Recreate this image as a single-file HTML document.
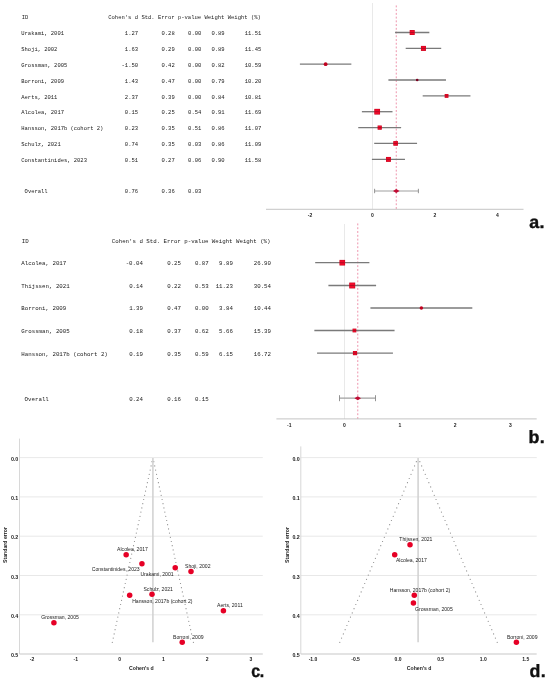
<!DOCTYPE html><html><head><meta charset="utf-8"><style>html,body{margin:0;padding:0;background:#fff;width:550px;height:681px;overflow:hidden}svg{display:block;filter:blur(0.3px)}</style></head><body>
<svg width="550" height="681" viewBox="0 0 550 681">
<rect width="550" height="681" fill="#fff"/>
<text x="21.80" y="19.26" font-size="5.47" font-family='"Liberation Mono", monospace' font-weight="normal" text-anchor="start" fill="#1a1a1a"  >ID</text>
<text x="108.20" y="19.29" font-size="5.547" font-family='"Liberation Mono", monospace' font-weight="normal" text-anchor="start" fill="#1a1a1a"  >Cohen's d Std. Error p-value Weight Weight (%)</text>
<text x="21.30" y="35.16" font-size="5.47" font-family='"Liberation Mono", monospace' font-weight="normal" text-anchor="start" fill="#1a1a1a"  >Urakami, 2001</text>
<text x="138.15" y="35.19" font-size="5.547" font-family='"Liberation Mono", monospace' font-weight="normal" text-anchor="end" fill="#1a1a1a"  >1.27</text>
<text x="174.77" y="35.19" font-size="5.547" font-family='"Liberation Mono", monospace' font-weight="normal" text-anchor="end" fill="#1a1a1a"  >0.28</text>
<text x="201.39" y="35.19" font-size="5.547" font-family='"Liberation Mono", monospace' font-weight="normal" text-anchor="end" fill="#1a1a1a"  >0.00</text>
<text x="224.69" y="35.19" font-size="5.547" font-family='"Liberation Mono", monospace' font-weight="normal" text-anchor="end" fill="#1a1a1a"  >0.89</text>
<text x="261.30" y="35.19" font-size="5.547" font-family='"Liberation Mono", monospace' font-weight="normal" text-anchor="end" fill="#1a1a1a"  >11.51</text>
<text x="21.30" y="51.06" font-size="5.47" font-family='"Liberation Mono", monospace' font-weight="normal" text-anchor="start" fill="#1a1a1a"  >Shoji, 2002</text>
<text x="138.15" y="51.09" font-size="5.547" font-family='"Liberation Mono", monospace' font-weight="normal" text-anchor="end" fill="#1a1a1a"  >1.63</text>
<text x="174.77" y="51.09" font-size="5.547" font-family='"Liberation Mono", monospace' font-weight="normal" text-anchor="end" fill="#1a1a1a"  >0.29</text>
<text x="201.39" y="51.09" font-size="5.547" font-family='"Liberation Mono", monospace' font-weight="normal" text-anchor="end" fill="#1a1a1a"  >0.00</text>
<text x="224.69" y="51.09" font-size="5.547" font-family='"Liberation Mono", monospace' font-weight="normal" text-anchor="end" fill="#1a1a1a"  >0.89</text>
<text x="261.30" y="51.09" font-size="5.547" font-family='"Liberation Mono", monospace' font-weight="normal" text-anchor="end" fill="#1a1a1a"  >11.45</text>
<text x="21.30" y="66.86" font-size="5.47" font-family='"Liberation Mono", monospace' font-weight="normal" text-anchor="start" fill="#1a1a1a"  >Grossman, 2005</text>
<text x="138.15" y="66.89" font-size="5.547" font-family='"Liberation Mono", monospace' font-weight="normal" text-anchor="end" fill="#1a1a1a"  >-1.50</text>
<text x="174.77" y="66.89" font-size="5.547" font-family='"Liberation Mono", monospace' font-weight="normal" text-anchor="end" fill="#1a1a1a"  >0.42</text>
<text x="201.39" y="66.89" font-size="5.547" font-family='"Liberation Mono", monospace' font-weight="normal" text-anchor="end" fill="#1a1a1a"  >0.00</text>
<text x="224.69" y="66.89" font-size="5.547" font-family='"Liberation Mono", monospace' font-weight="normal" text-anchor="end" fill="#1a1a1a"  >0.82</text>
<text x="261.30" y="66.89" font-size="5.547" font-family='"Liberation Mono", monospace' font-weight="normal" text-anchor="end" fill="#1a1a1a"  >10.59</text>
<text x="21.30" y="82.66" font-size="5.47" font-family='"Liberation Mono", monospace' font-weight="normal" text-anchor="start" fill="#1a1a1a"  >Borroni, 2009</text>
<text x="138.15" y="82.69" font-size="5.547" font-family='"Liberation Mono", monospace' font-weight="normal" text-anchor="end" fill="#1a1a1a"  >1.43</text>
<text x="174.77" y="82.69" font-size="5.547" font-family='"Liberation Mono", monospace' font-weight="normal" text-anchor="end" fill="#1a1a1a"  >0.47</text>
<text x="201.39" y="82.69" font-size="5.547" font-family='"Liberation Mono", monospace' font-weight="normal" text-anchor="end" fill="#1a1a1a"  >0.00</text>
<text x="224.69" y="82.69" font-size="5.547" font-family='"Liberation Mono", monospace' font-weight="normal" text-anchor="end" fill="#1a1a1a"  >0.79</text>
<text x="261.30" y="82.69" font-size="5.547" font-family='"Liberation Mono", monospace' font-weight="normal" text-anchor="end" fill="#1a1a1a"  >10.20</text>
<text x="21.30" y="98.56" font-size="5.47" font-family='"Liberation Mono", monospace' font-weight="normal" text-anchor="start" fill="#1a1a1a"  >Aerts, 2011</text>
<text x="138.15" y="98.59" font-size="5.547" font-family='"Liberation Mono", monospace' font-weight="normal" text-anchor="end" fill="#1a1a1a"  >2.37</text>
<text x="174.77" y="98.59" font-size="5.547" font-family='"Liberation Mono", monospace' font-weight="normal" text-anchor="end" fill="#1a1a1a"  >0.39</text>
<text x="201.39" y="98.59" font-size="5.547" font-family='"Liberation Mono", monospace' font-weight="normal" text-anchor="end" fill="#1a1a1a"  >0.00</text>
<text x="224.69" y="98.59" font-size="5.547" font-family='"Liberation Mono", monospace' font-weight="normal" text-anchor="end" fill="#1a1a1a"  >0.84</text>
<text x="261.30" y="98.59" font-size="5.547" font-family='"Liberation Mono", monospace' font-weight="normal" text-anchor="end" fill="#1a1a1a"  >10.81</text>
<text x="21.30" y="114.36" font-size="5.47" font-family='"Liberation Mono", monospace' font-weight="normal" text-anchor="start" fill="#1a1a1a"  >Alcolea, 2017</text>
<text x="138.15" y="114.39" font-size="5.547" font-family='"Liberation Mono", monospace' font-weight="normal" text-anchor="end" fill="#1a1a1a"  >0.15</text>
<text x="174.77" y="114.39" font-size="5.547" font-family='"Liberation Mono", monospace' font-weight="normal" text-anchor="end" fill="#1a1a1a"  >0.25</text>
<text x="201.39" y="114.39" font-size="5.547" font-family='"Liberation Mono", monospace' font-weight="normal" text-anchor="end" fill="#1a1a1a"  >0.54</text>
<text x="224.69" y="114.39" font-size="5.547" font-family='"Liberation Mono", monospace' font-weight="normal" text-anchor="end" fill="#1a1a1a"  >0.91</text>
<text x="261.30" y="114.39" font-size="5.547" font-family='"Liberation Mono", monospace' font-weight="normal" text-anchor="end" fill="#1a1a1a"  >11.69</text>
<text x="21.30" y="130.26" font-size="5.47" font-family='"Liberation Mono", monospace' font-weight="normal" text-anchor="start" fill="#1a1a1a"  >Hansson, 2017b (cohort 2)</text>
<text x="138.15" y="130.29" font-size="5.547" font-family='"Liberation Mono", monospace' font-weight="normal" text-anchor="end" fill="#1a1a1a"  >0.23</text>
<text x="174.77" y="130.29" font-size="5.547" font-family='"Liberation Mono", monospace' font-weight="normal" text-anchor="end" fill="#1a1a1a"  >0.35</text>
<text x="201.39" y="130.29" font-size="5.547" font-family='"Liberation Mono", monospace' font-weight="normal" text-anchor="end" fill="#1a1a1a"  >0.51</text>
<text x="224.69" y="130.29" font-size="5.547" font-family='"Liberation Mono", monospace' font-weight="normal" text-anchor="end" fill="#1a1a1a"  >0.86</text>
<text x="261.30" y="130.29" font-size="5.547" font-family='"Liberation Mono", monospace' font-weight="normal" text-anchor="end" fill="#1a1a1a"  >11.07</text>
<text x="21.30" y="146.06" font-size="5.47" font-family='"Liberation Mono", monospace' font-weight="normal" text-anchor="start" fill="#1a1a1a"  >Schulz, 2021</text>
<text x="138.15" y="146.09" font-size="5.547" font-family='"Liberation Mono", monospace' font-weight="normal" text-anchor="end" fill="#1a1a1a"  >0.74</text>
<text x="174.77" y="146.09" font-size="5.547" font-family='"Liberation Mono", monospace' font-weight="normal" text-anchor="end" fill="#1a1a1a"  >0.35</text>
<text x="201.39" y="146.09" font-size="5.547" font-family='"Liberation Mono", monospace' font-weight="normal" text-anchor="end" fill="#1a1a1a"  >0.03</text>
<text x="224.69" y="146.09" font-size="5.547" font-family='"Liberation Mono", monospace' font-weight="normal" text-anchor="end" fill="#1a1a1a"  >0.86</text>
<text x="261.30" y="146.09" font-size="5.547" font-family='"Liberation Mono", monospace' font-weight="normal" text-anchor="end" fill="#1a1a1a"  >11.09</text>
<text x="21.30" y="162.06" font-size="5.47" font-family='"Liberation Mono", monospace' font-weight="normal" text-anchor="start" fill="#1a1a1a"  >Constantinides, 2023</text>
<text x="138.15" y="162.09" font-size="5.547" font-family='"Liberation Mono", monospace' font-weight="normal" text-anchor="end" fill="#1a1a1a"  >0.51</text>
<text x="174.77" y="162.09" font-size="5.547" font-family='"Liberation Mono", monospace' font-weight="normal" text-anchor="end" fill="#1a1a1a"  >0.27</text>
<text x="201.39" y="162.09" font-size="5.547" font-family='"Liberation Mono", monospace' font-weight="normal" text-anchor="end" fill="#1a1a1a"  >0.06</text>
<text x="224.69" y="162.09" font-size="5.547" font-family='"Liberation Mono", monospace' font-weight="normal" text-anchor="end" fill="#1a1a1a"  >0.90</text>
<text x="261.30" y="162.09" font-size="5.547" font-family='"Liberation Mono", monospace' font-weight="normal" text-anchor="end" fill="#1a1a1a"  >11.58</text>
<text x="24.60" y="193.16" font-size="5.47" font-family='"Liberation Mono", monospace' font-weight="normal" text-anchor="start" fill="#1a1a1a"  >Overall</text>
<text x="138.15" y="193.19" font-size="5.547" font-family='"Liberation Mono", monospace' font-weight="normal" text-anchor="end" fill="#1a1a1a"  >0.76</text>
<text x="174.77" y="193.19" font-size="5.547" font-family='"Liberation Mono", monospace' font-weight="normal" text-anchor="end" fill="#1a1a1a"  >0.36</text>
<text x="201.39" y="193.19" font-size="5.547" font-family='"Liberation Mono", monospace' font-weight="normal" text-anchor="end" fill="#1a1a1a"  >0.03</text>
<line x1="372.50" y1="3.00" x2="372.50" y2="209.30" stroke="#e6e6e6" stroke-width="0.9" />
<line x1="396.25" y1="5.45" x2="396.25" y2="209.30" stroke="#ee94ac" stroke-width="1.0" stroke-dasharray="1.9 1.833"/>
<line x1="395.04" y1="32.50" x2="429.34" y2="32.50" stroke="#7a7a7a" stroke-width="1.3" />
<rect x="409.69" y="30.00" width="5.0" height="5.0" fill="#c4061e"/>
<rect x="410.14" y="30.45" width="4.10" height="4.10" fill="#f00a2a"/>
<line x1="410.19" y1="32.50" x2="414.19" y2="32.50" stroke="#9a0a20" stroke-width="0.7" />
<line x1="405.68" y1="48.40" x2="441.20" y2="48.40" stroke="#7a7a7a" stroke-width="1.3" />
<rect x="420.94" y="45.90" width="5.0" height="5.0" fill="#c4061e"/>
<rect x="421.39" y="46.35" width="4.10" height="4.10" fill="#f00a2a"/>
<line x1="421.44" y1="48.40" x2="425.44" y2="48.40" stroke="#9a0a20" stroke-width="0.7" />
<line x1="299.90" y1="64.20" x2="351.35" y2="64.20" stroke="#7a7a7a" stroke-width="1.3" />
<circle cx="325.62" cy="64.20" r="1.9" fill="#c0001e"/>
<line x1="388.40" y1="80.00" x2="445.98" y2="80.00" stroke="#7a7a7a" stroke-width="1.3" />
<circle cx="417.19" cy="80.00" r="1.3" fill="#7a0020"/>
<line x1="422.68" y1="95.90" x2="470.45" y2="95.90" stroke="#7a7a7a" stroke-width="1.3" />
<rect x="444.66" y="94.00" width="3.8" height="3.8" fill="#c4061e"/>
<rect x="445.11" y="94.45" width="2.90" height="2.90" fill="#f00a2a"/>
<line x1="445.16" y1="95.90" x2="447.96" y2="95.90" stroke="#9a0a20" stroke-width="0.7" />
<line x1="361.88" y1="111.70" x2="392.50" y2="111.70" stroke="#7a7a7a" stroke-width="1.3" />
<rect x="374.34" y="108.85" width="5.7" height="5.7" fill="#c4061e"/>
<rect x="374.79" y="109.30" width="4.80" height="4.80" fill="#f00a2a"/>
<line x1="374.84" y1="111.70" x2="379.54" y2="111.70" stroke="#9a0a20" stroke-width="0.7" />
<line x1="358.25" y1="127.60" x2="401.12" y2="127.60" stroke="#7a7a7a" stroke-width="1.3" />
<rect x="377.59" y="125.50" width="4.2" height="4.2" fill="#c4061e"/>
<rect x="378.04" y="125.95" width="3.30" height="3.30" fill="#f00a2a"/>
<line x1="378.09" y1="127.60" x2="381.29" y2="127.60" stroke="#9a0a20" stroke-width="0.7" />
<line x1="374.19" y1="143.40" x2="417.06" y2="143.40" stroke="#7a7a7a" stroke-width="1.3" />
<rect x="393.32" y="141.10" width="4.6" height="4.6" fill="#c4061e"/>
<rect x="393.77" y="141.55" width="3.70" height="3.70" fill="#f00a2a"/>
<line x1="393.82" y1="143.40" x2="397.43" y2="143.40" stroke="#9a0a20" stroke-width="0.7" />
<line x1="371.90" y1="159.40" x2="404.98" y2="159.40" stroke="#7a7a7a" stroke-width="1.3" />
<rect x="385.99" y="156.95" width="4.9" height="4.9" fill="#c4061e"/>
<rect x="386.44" y="157.40" width="4.00" height="4.00" fill="#f00a2a"/>
<line x1="386.49" y1="159.40" x2="390.39" y2="159.40" stroke="#9a0a20" stroke-width="0.7" />
<line x1="374.60" y1="191.00" x2="418.40" y2="191.00" stroke="#a0a0a0" stroke-width="1.2" />
<line x1="374.60" y1="188.80" x2="374.60" y2="193.20" stroke="#888" stroke-width="0.9" />
<line x1="418.40" y1="188.80" x2="418.40" y2="193.20" stroke="#888" stroke-width="0.9" />
<polygon points="392.95,191.00 396.25,189.00 399.55,191.00 396.25,193.00" fill="#c00c34"/>
<line x1="266.00" y1="209.30" x2="523.50" y2="209.30" stroke="#bdbdbd" stroke-width="0.9" />
<text x="310.00" y="216.80" font-size="5.0" font-family='"Liberation Sans", sans-serif' font-weight="bold" text-anchor="middle" fill="#222" >-2</text>
<text x="372.50" y="216.80" font-size="5.0" font-family='"Liberation Sans", sans-serif' font-weight="bold" text-anchor="middle" fill="#222" >0</text>
<text x="435.00" y="216.80" font-size="5.0" font-family='"Liberation Sans", sans-serif' font-weight="bold" text-anchor="middle" fill="#222" >2</text>
<text x="497.50" y="216.80" font-size="5.0" font-family='"Liberation Sans", sans-serif' font-weight="bold" text-anchor="middle" fill="#222" >4</text>
<text transform="translate(529.2,228.4) scale(0.25,0.25)" x="0" y="0" font-size="71.2" letter-spacing="1.2" font-family='"Liberation Sans", sans-serif' font-weight="bold" fill="#111" stroke="#111" stroke-width="1.6" text-rendering="geometricPrecision">a.</text>
<text x="21.80" y="242.77" font-size="5.78" font-family='"Liberation Mono", monospace' font-weight="normal" text-anchor="start" fill="#1a1a1a"  >ID</text>
<text x="111.80" y="242.76" font-size="5.768" font-family='"Liberation Mono", monospace' font-weight="normal" text-anchor="start" fill="#1a1a1a"  >Cohen's d Std. Error p-value Weight Weight (%)</text>
<text x="21.30" y="265.17" font-size="5.78" font-family='"Liberation Mono", monospace' font-weight="normal" text-anchor="start" fill="#1a1a1a"  >Alcolea, 2017</text>
<text x="142.95" y="265.16" font-size="5.768" font-family='"Liberation Mono", monospace' font-weight="normal" text-anchor="end" fill="#1a1a1a"  >-0.04</text>
<text x="181.02" y="265.16" font-size="5.768" font-family='"Liberation Mono", monospace' font-weight="normal" text-anchor="end" fill="#1a1a1a"  >0.25</text>
<text x="208.70" y="265.16" font-size="5.768" font-family='"Liberation Mono", monospace' font-weight="normal" text-anchor="end" fill="#1a1a1a"  >0.87</text>
<text x="232.93" y="265.16" font-size="5.768" font-family='"Liberation Mono", monospace' font-weight="normal" text-anchor="end" fill="#1a1a1a"  >9.89</text>
<text x="271.00" y="265.16" font-size="5.768" font-family='"Liberation Mono", monospace' font-weight="normal" text-anchor="end" fill="#1a1a1a"  >26.90</text>
<text x="21.30" y="287.97" font-size="5.78" font-family='"Liberation Mono", monospace' font-weight="normal" text-anchor="start" fill="#1a1a1a"  >Thijssen, 2021</text>
<text x="142.95" y="287.96" font-size="5.768" font-family='"Liberation Mono", monospace' font-weight="normal" text-anchor="end" fill="#1a1a1a"  >0.14</text>
<text x="181.02" y="287.96" font-size="5.768" font-family='"Liberation Mono", monospace' font-weight="normal" text-anchor="end" fill="#1a1a1a"  >0.22</text>
<text x="208.70" y="287.96" font-size="5.768" font-family='"Liberation Mono", monospace' font-weight="normal" text-anchor="end" fill="#1a1a1a"  >0.53</text>
<text x="232.93" y="287.96" font-size="5.768" font-family='"Liberation Mono", monospace' font-weight="normal" text-anchor="end" fill="#1a1a1a"  >11.23</text>
<text x="271.00" y="287.96" font-size="5.768" font-family='"Liberation Mono", monospace' font-weight="normal" text-anchor="end" fill="#1a1a1a"  >30.54</text>
<text x="21.30" y="310.47" font-size="5.78" font-family='"Liberation Mono", monospace' font-weight="normal" text-anchor="start" fill="#1a1a1a"  >Borroni, 2009</text>
<text x="142.95" y="310.46" font-size="5.768" font-family='"Liberation Mono", monospace' font-weight="normal" text-anchor="end" fill="#1a1a1a"  >1.39</text>
<text x="181.02" y="310.46" font-size="5.768" font-family='"Liberation Mono", monospace' font-weight="normal" text-anchor="end" fill="#1a1a1a"  >0.47</text>
<text x="208.70" y="310.46" font-size="5.768" font-family='"Liberation Mono", monospace' font-weight="normal" text-anchor="end" fill="#1a1a1a"  >0.00</text>
<text x="232.93" y="310.46" font-size="5.768" font-family='"Liberation Mono", monospace' font-weight="normal" text-anchor="end" fill="#1a1a1a"  >3.84</text>
<text x="271.00" y="310.46" font-size="5.768" font-family='"Liberation Mono", monospace' font-weight="normal" text-anchor="end" fill="#1a1a1a"  >10.44</text>
<text x="21.30" y="332.97" font-size="5.78" font-family='"Liberation Mono", monospace' font-weight="normal" text-anchor="start" fill="#1a1a1a"  >Grossman, 2005</text>
<text x="142.95" y="332.96" font-size="5.768" font-family='"Liberation Mono", monospace' font-weight="normal" text-anchor="end" fill="#1a1a1a"  >0.18</text>
<text x="181.02" y="332.96" font-size="5.768" font-family='"Liberation Mono", monospace' font-weight="normal" text-anchor="end" fill="#1a1a1a"  >0.37</text>
<text x="208.70" y="332.96" font-size="5.768" font-family='"Liberation Mono", monospace' font-weight="normal" text-anchor="end" fill="#1a1a1a"  >0.62</text>
<text x="232.93" y="332.96" font-size="5.768" font-family='"Liberation Mono", monospace' font-weight="normal" text-anchor="end" fill="#1a1a1a"  >5.66</text>
<text x="271.00" y="332.96" font-size="5.768" font-family='"Liberation Mono", monospace' font-weight="normal" text-anchor="end" fill="#1a1a1a"  >15.39</text>
<text x="21.30" y="355.57" font-size="5.78" font-family='"Liberation Mono", monospace' font-weight="normal" text-anchor="start" fill="#1a1a1a"  >Hansson, 2017b (cohort 2)</text>
<text x="142.95" y="355.56" font-size="5.768" font-family='"Liberation Mono", monospace' font-weight="normal" text-anchor="end" fill="#1a1a1a"  >0.19</text>
<text x="181.02" y="355.56" font-size="5.768" font-family='"Liberation Mono", monospace' font-weight="normal" text-anchor="end" fill="#1a1a1a"  >0.35</text>
<text x="208.70" y="355.56" font-size="5.768" font-family='"Liberation Mono", monospace' font-weight="normal" text-anchor="end" fill="#1a1a1a"  >0.59</text>
<text x="232.93" y="355.56" font-size="5.768" font-family='"Liberation Mono", monospace' font-weight="normal" text-anchor="end" fill="#1a1a1a"  >6.15</text>
<text x="271.00" y="355.56" font-size="5.768" font-family='"Liberation Mono", monospace' font-weight="normal" text-anchor="end" fill="#1a1a1a"  >16.72</text>
<text x="24.60" y="400.97" font-size="5.78" font-family='"Liberation Mono", monospace' font-weight="normal" text-anchor="start" fill="#1a1a1a"  >Overall</text>
<text x="142.95" y="400.96" font-size="5.768" font-family='"Liberation Mono", monospace' font-weight="normal" text-anchor="end" fill="#1a1a1a"  >0.24</text>
<text x="181.02" y="400.96" font-size="5.768" font-family='"Liberation Mono", monospace' font-weight="normal" text-anchor="end" fill="#1a1a1a"  >0.16</text>
<text x="208.70" y="400.96" font-size="5.768" font-family='"Liberation Mono", monospace' font-weight="normal" text-anchor="end" fill="#1a1a1a"  >0.15</text>
<line x1="344.50" y1="224.00" x2="344.50" y2="418.90" stroke="#e6e6e6" stroke-width="0.9" />
<line x1="357.77" y1="223.45" x2="357.77" y2="418.90" stroke="#ee94ac" stroke-width="1.0" stroke-dasharray="1.9 1.896"/>
<line x1="315.19" y1="262.70" x2="369.38" y2="262.70" stroke="#7a7a7a" stroke-width="1.3" />
<rect x="339.49" y="259.90" width="5.6" height="5.6" fill="#c4061e"/>
<rect x="339.94" y="260.35" width="4.70" height="4.70" fill="#f00a2a"/>
<line x1="339.99" y1="262.70" x2="344.59" y2="262.70" stroke="#9a0a20" stroke-width="0.7" />
<line x1="328.40" y1="285.50" x2="376.09" y2="285.50" stroke="#7a7a7a" stroke-width="1.3" />
<rect x="349.29" y="282.55" width="5.9" height="5.9" fill="#c4061e"/>
<rect x="349.74" y="283.00" width="5.00" height="5.00" fill="#f00a2a"/>
<line x1="349.79" y1="285.50" x2="354.69" y2="285.50" stroke="#9a0a20" stroke-width="0.7" />
<line x1="370.42" y1="308.00" x2="472.31" y2="308.00" stroke="#7a7a7a" stroke-width="1.3" />
<circle cx="421.37" cy="308.00" r="1.75" fill="#c0001e"/>
<line x1="314.35" y1="330.50" x2="394.56" y2="330.50" stroke="#7a7a7a" stroke-width="1.3" />
<rect x="352.55" y="328.60" width="3.8" height="3.8" fill="#c4061e"/>
<rect x="353.00" y="329.05" width="2.90" height="2.90" fill="#f00a2a"/>
<line x1="353.05" y1="330.50" x2="355.85" y2="330.50" stroke="#9a0a20" stroke-width="0.7" />
<line x1="317.07" y1="353.10" x2="392.94" y2="353.10" stroke="#7a7a7a" stroke-width="1.3" />
<rect x="352.91" y="351.00" width="4.2" height="4.2" fill="#c4061e"/>
<rect x="353.36" y="351.45" width="3.30" height="3.30" fill="#f00a2a"/>
<line x1="353.41" y1="353.10" x2="356.61" y2="353.10" stroke="#9a0a20" stroke-width="0.7" />
<line x1="339.50" y1="398.20" x2="375.50" y2="398.20" stroke="#a0a0a0" stroke-width="1.2" />
<line x1="339.50" y1="395.20" x2="339.50" y2="401.20" stroke="#888" stroke-width="0.9" />
<line x1="375.50" y1="395.20" x2="375.50" y2="401.20" stroke="#888" stroke-width="0.9" />
<polygon points="354.47,398.20 357.77,396.20 361.07,398.20 357.77,400.20" fill="#c00c34"/>
<line x1="276.40" y1="418.90" x2="536.70" y2="418.90" stroke="#bdbdbd" stroke-width="0.9" />
<text x="289.20" y="426.90" font-size="5.0" font-family='"Liberation Sans", sans-serif' font-weight="bold" text-anchor="middle" fill="#222" >-1</text>
<text x="344.50" y="426.90" font-size="5.0" font-family='"Liberation Sans", sans-serif' font-weight="bold" text-anchor="middle" fill="#222" >0</text>
<text x="399.80" y="426.90" font-size="5.0" font-family='"Liberation Sans", sans-serif' font-weight="bold" text-anchor="middle" fill="#222" >1</text>
<text x="455.10" y="426.90" font-size="5.0" font-family='"Liberation Sans", sans-serif' font-weight="bold" text-anchor="middle" fill="#222" >2</text>
<text x="510.40" y="426.90" font-size="5.0" font-family='"Liberation Sans", sans-serif' font-weight="bold" text-anchor="middle" fill="#222" >3</text>
<text transform="translate(528.6,442.5) scale(0.25,0.25)" x="0" y="0" font-size="71.2" letter-spacing="1.2" font-family='"Liberation Sans", sans-serif' font-weight="bold" fill="#111" stroke="#111" stroke-width="1.6" text-rendering="geometricPrecision">b.</text>
<line x1="19.50" y1="457.60" x2="262.80" y2="457.60" stroke="#e2e2e2" stroke-width="0.8" />
<line x1="19.50" y1="496.90" x2="262.80" y2="496.90" stroke="#e2e2e2" stroke-width="0.8" />
<line x1="19.50" y1="536.20" x2="262.80" y2="536.20" stroke="#e2e2e2" stroke-width="0.8" />
<line x1="19.50" y1="575.50" x2="262.80" y2="575.50" stroke="#e2e2e2" stroke-width="0.8" />
<line x1="19.50" y1="614.80" x2="262.80" y2="614.80" stroke="#e2e2e2" stroke-width="0.8" />
<line x1="19.50" y1="438.60" x2="19.50" y2="654.00" stroke="#d8d8d8" stroke-width="1.0" />
<line x1="19.50" y1="654.00" x2="262.80" y2="654.00" stroke="#c8c8c8" stroke-width="1.1" />
<text x="18.30" y="460.60" font-size="5.3" font-family='"Liberation Sans", sans-serif' font-weight="bold" text-anchor="end" fill="#222" >0.0</text>
<text x="18.30" y="499.90" font-size="5.3" font-family='"Liberation Sans", sans-serif' font-weight="bold" text-anchor="end" fill="#222" >0.1</text>
<text x="18.30" y="539.20" font-size="5.3" font-family='"Liberation Sans", sans-serif' font-weight="bold" text-anchor="end" fill="#222" >0.2</text>
<text x="18.30" y="578.50" font-size="5.3" font-family='"Liberation Sans", sans-serif' font-weight="bold" text-anchor="end" fill="#222" >0.3</text>
<text x="18.30" y="617.80" font-size="5.3" font-family='"Liberation Sans", sans-serif' font-weight="bold" text-anchor="end" fill="#222" >0.4</text>
<text x="18.30" y="657.10" font-size="5.3" font-family='"Liberation Sans", sans-serif' font-weight="bold" text-anchor="end" fill="#222" >0.5</text>
<text x="32.00" y="661.00" font-size="5.0" font-family='"Liberation Sans", sans-serif' font-weight="bold" text-anchor="middle" fill="#222" >-2</text>
<text x="75.80" y="661.00" font-size="5.0" font-family='"Liberation Sans", sans-serif' font-weight="bold" text-anchor="middle" fill="#222" >-1</text>
<text x="119.60" y="661.00" font-size="5.0" font-family='"Liberation Sans", sans-serif' font-weight="bold" text-anchor="middle" fill="#222" >0</text>
<text x="163.40" y="661.00" font-size="5.0" font-family='"Liberation Sans", sans-serif' font-weight="bold" text-anchor="middle" fill="#222" >1</text>
<text x="207.20" y="661.00" font-size="5.0" font-family='"Liberation Sans", sans-serif' font-weight="bold" text-anchor="middle" fill="#222" >2</text>
<text x="251.00" y="661.00" font-size="5.0" font-family='"Liberation Sans", sans-serif' font-weight="bold" text-anchor="middle" fill="#222" >3</text>
<circle cx="112.30" cy="642.30" r="0.6" fill="#8a8a8a"/>
<circle cx="113.22" cy="638.10" r="0.6" fill="#8a8a8a"/>
<circle cx="114.15" cy="633.90" r="0.6" fill="#8a8a8a"/>
<circle cx="115.07" cy="629.70" r="0.6" fill="#8a8a8a"/>
<circle cx="115.99" cy="625.50" r="0.6" fill="#8a8a8a"/>
<circle cx="116.92" cy="621.30" r="0.6" fill="#8a8a8a"/>
<circle cx="117.84" cy="617.10" r="0.6" fill="#8a8a8a"/>
<circle cx="118.76" cy="612.90" r="0.6" fill="#8a8a8a"/>
<circle cx="119.69" cy="608.70" r="0.6" fill="#8a8a8a"/>
<circle cx="120.61" cy="604.50" r="0.6" fill="#8a8a8a"/>
<circle cx="121.53" cy="600.30" r="0.6" fill="#8a8a8a"/>
<circle cx="122.46" cy="596.10" r="0.6" fill="#8a8a8a"/>
<circle cx="123.38" cy="591.90" r="0.6" fill="#8a8a8a"/>
<circle cx="124.30" cy="587.70" r="0.6" fill="#8a8a8a"/>
<circle cx="125.23" cy="583.50" r="0.6" fill="#8a8a8a"/>
<circle cx="126.15" cy="579.30" r="0.6" fill="#8a8a8a"/>
<circle cx="127.07" cy="575.10" r="0.6" fill="#8a8a8a"/>
<circle cx="127.99" cy="570.90" r="0.6" fill="#8a8a8a"/>
<circle cx="128.92" cy="566.70" r="0.6" fill="#8a8a8a"/>
<circle cx="129.84" cy="562.50" r="0.6" fill="#8a8a8a"/>
<circle cx="130.76" cy="558.30" r="0.6" fill="#8a8a8a"/>
<circle cx="131.69" cy="554.10" r="0.6" fill="#8a8a8a"/>
<circle cx="132.61" cy="549.90" r="0.6" fill="#8a8a8a"/>
<circle cx="133.53" cy="545.70" r="0.6" fill="#8a8a8a"/>
<circle cx="134.46" cy="541.50" r="0.6" fill="#8a8a8a"/>
<circle cx="135.38" cy="537.30" r="0.6" fill="#8a8a8a"/>
<circle cx="136.30" cy="533.10" r="0.6" fill="#8a8a8a"/>
<circle cx="137.23" cy="528.90" r="0.6" fill="#8a8a8a"/>
<circle cx="138.15" cy="524.70" r="0.6" fill="#8a8a8a"/>
<circle cx="139.07" cy="520.50" r="0.6" fill="#8a8a8a"/>
<circle cx="140.00" cy="516.30" r="0.6" fill="#8a8a8a"/>
<circle cx="140.92" cy="512.10" r="0.6" fill="#8a8a8a"/>
<circle cx="141.84" cy="507.90" r="0.6" fill="#8a8a8a"/>
<circle cx="142.77" cy="503.70" r="0.6" fill="#8a8a8a"/>
<circle cx="143.69" cy="499.50" r="0.6" fill="#8a8a8a"/>
<circle cx="144.61" cy="495.30" r="0.6" fill="#8a8a8a"/>
<circle cx="145.54" cy="491.10" r="0.6" fill="#8a8a8a"/>
<circle cx="146.46" cy="486.90" r="0.6" fill="#8a8a8a"/>
<circle cx="147.38" cy="482.70" r="0.6" fill="#8a8a8a"/>
<circle cx="148.31" cy="478.50" r="0.6" fill="#8a8a8a"/>
<circle cx="149.23" cy="474.30" r="0.6" fill="#8a8a8a"/>
<circle cx="150.15" cy="470.10" r="0.6" fill="#8a8a8a"/>
<circle cx="151.08" cy="465.90" r="0.6" fill="#8a8a8a"/>
<circle cx="152.00" cy="461.70" r="0.6" fill="#8a8a8a"/>
<circle cx="193.40" cy="642.30" r="0.6" fill="#8a8a8a"/>
<circle cx="192.48" cy="638.10" r="0.6" fill="#8a8a8a"/>
<circle cx="191.56" cy="633.90" r="0.6" fill="#8a8a8a"/>
<circle cx="190.64" cy="629.70" r="0.6" fill="#8a8a8a"/>
<circle cx="189.72" cy="625.50" r="0.6" fill="#8a8a8a"/>
<circle cx="188.80" cy="621.30" r="0.6" fill="#8a8a8a"/>
<circle cx="187.87" cy="617.10" r="0.6" fill="#8a8a8a"/>
<circle cx="186.95" cy="612.90" r="0.6" fill="#8a8a8a"/>
<circle cx="186.03" cy="608.70" r="0.6" fill="#8a8a8a"/>
<circle cx="185.11" cy="604.50" r="0.6" fill="#8a8a8a"/>
<circle cx="184.19" cy="600.30" r="0.6" fill="#8a8a8a"/>
<circle cx="183.27" cy="596.10" r="0.6" fill="#8a8a8a"/>
<circle cx="182.35" cy="591.90" r="0.6" fill="#8a8a8a"/>
<circle cx="181.43" cy="587.70" r="0.6" fill="#8a8a8a"/>
<circle cx="180.51" cy="583.50" r="0.6" fill="#8a8a8a"/>
<circle cx="179.59" cy="579.30" r="0.6" fill="#8a8a8a"/>
<circle cx="178.66" cy="575.10" r="0.6" fill="#8a8a8a"/>
<circle cx="177.74" cy="570.90" r="0.6" fill="#8a8a8a"/>
<circle cx="176.82" cy="566.70" r="0.6" fill="#8a8a8a"/>
<circle cx="175.90" cy="562.50" r="0.6" fill="#8a8a8a"/>
<circle cx="174.98" cy="558.30" r="0.6" fill="#8a8a8a"/>
<circle cx="174.06" cy="554.10" r="0.6" fill="#8a8a8a"/>
<circle cx="173.14" cy="549.90" r="0.6" fill="#8a8a8a"/>
<circle cx="172.22" cy="545.70" r="0.6" fill="#8a8a8a"/>
<circle cx="171.30" cy="541.50" r="0.6" fill="#8a8a8a"/>
<circle cx="170.38" cy="537.30" r="0.6" fill="#8a8a8a"/>
<circle cx="169.46" cy="533.10" r="0.6" fill="#8a8a8a"/>
<circle cx="168.53" cy="528.90" r="0.6" fill="#8a8a8a"/>
<circle cx="167.61" cy="524.70" r="0.6" fill="#8a8a8a"/>
<circle cx="166.69" cy="520.50" r="0.6" fill="#8a8a8a"/>
<circle cx="165.77" cy="516.30" r="0.6" fill="#8a8a8a"/>
<circle cx="164.85" cy="512.10" r="0.6" fill="#8a8a8a"/>
<circle cx="163.93" cy="507.90" r="0.6" fill="#8a8a8a"/>
<circle cx="163.01" cy="503.70" r="0.6" fill="#8a8a8a"/>
<circle cx="162.09" cy="499.50" r="0.6" fill="#8a8a8a"/>
<circle cx="161.17" cy="495.30" r="0.6" fill="#8a8a8a"/>
<circle cx="160.25" cy="491.10" r="0.6" fill="#8a8a8a"/>
<circle cx="159.32" cy="486.90" r="0.6" fill="#8a8a8a"/>
<circle cx="158.40" cy="482.70" r="0.6" fill="#8a8a8a"/>
<circle cx="157.48" cy="478.50" r="0.6" fill="#8a8a8a"/>
<circle cx="156.56" cy="474.30" r="0.6" fill="#8a8a8a"/>
<circle cx="155.64" cy="470.10" r="0.6" fill="#8a8a8a"/>
<circle cx="154.72" cy="465.90" r="0.6" fill="#8a8a8a"/>
<circle cx="153.80" cy="461.70" r="0.6" fill="#8a8a8a"/>
<line x1="152.90" y1="457.90" x2="152.90" y2="642.30" stroke="#d0d0d0" stroke-width="1.5" />
<circle cx="175.23" cy="567.64" r="2.75" fill="#e60026"/>
<circle cx="190.99" cy="571.57" r="2.75" fill="#e60026"/>
<circle cx="53.90" cy="622.66" r="2.75" fill="#e60026"/>
<circle cx="182.23" cy="642.31" r="2.75" fill="#e60026"/>
<circle cx="223.41" cy="610.87" r="2.75" fill="#e60026"/>
<circle cx="126.17" cy="554.87" r="2.75" fill="#e60026"/>
<circle cx="129.67" cy="595.15" r="2.75" fill="#e60026"/>
<circle cx="152.01" cy="594.17" r="2.75" fill="#e60026"/>
<circle cx="141.94" cy="563.71" r="2.75" fill="#e60026"/>
<text x="132.50" y="550.83" font-size="5.1" font-family='"Liberation Sans", sans-serif' font-weight="normal" text-anchor="middle" fill="#222" >Alcolea, 2017</text>
<text x="115.70" y="570.53" font-size="5.1" font-family='"Liberation Sans", sans-serif' font-weight="normal" text-anchor="middle" fill="#222" >Constantinides, 2023</text>
<text x="157.00" y="575.63" font-size="5.1" font-family='"Liberation Sans", sans-serif' font-weight="normal" text-anchor="middle" fill="#222" >Urakami, 2001</text>
<text x="197.80" y="567.93" font-size="5.1" font-family='"Liberation Sans", sans-serif' font-weight="normal" text-anchor="middle" fill="#222" >Shoji, 2002</text>
<text x="158.20" y="590.53" font-size="5.1" font-family='"Liberation Sans", sans-serif' font-weight="normal" text-anchor="middle" fill="#222" >Schulz, 2021</text>
<text x="162.30" y="603.33" font-size="5.1" font-family='"Liberation Sans", sans-serif' font-weight="normal" text-anchor="middle" fill="#222" >Hansson, 2017b (cohort 2)</text>
<text x="229.90" y="606.53" font-size="5.1" font-family='"Liberation Sans", sans-serif' font-weight="normal" text-anchor="middle" fill="#222" >Aerts, 2011</text>
<text x="60.00" y="618.73" font-size="5.1" font-family='"Liberation Sans", sans-serif' font-weight="normal" text-anchor="middle" fill="#222" >Grossman, 2005</text>
<text x="188.30" y="639.33" font-size="5.1" font-family='"Liberation Sans", sans-serif' font-weight="normal" text-anchor="middle" fill="#222" >Borroni, 2009</text>
<text x="0" y="0" transform="translate(6.60,545) rotate(-90)" font-size="5.2" font-family='"Liberation Sans", sans-serif' font-weight="bold" text-anchor="middle" fill="#222">Standard error</text>
<text x="141.40" y="669.95" font-size="5.15" font-family='"Liberation Sans", sans-serif' font-weight="bold" text-anchor="middle" fill="#222" >Cohen's d</text>
<text transform="translate(251.3,676.9) scale(0.225,0.25)" x="0" y="0" font-size="71.2" letter-spacing="-2.0" font-family='"Liberation Sans", sans-serif' font-weight="bold" fill="#111" stroke="#111" stroke-width="1.6" text-rendering="geometricPrecision">c.</text>
<line x1="300.80" y1="457.60" x2="536.70" y2="457.60" stroke="#e2e2e2" stroke-width="0.8" />
<line x1="300.80" y1="496.90" x2="536.70" y2="496.90" stroke="#e2e2e2" stroke-width="0.8" />
<line x1="300.80" y1="536.20" x2="536.70" y2="536.20" stroke="#e2e2e2" stroke-width="0.8" />
<line x1="300.80" y1="575.50" x2="536.70" y2="575.50" stroke="#e2e2e2" stroke-width="0.8" />
<line x1="300.80" y1="614.80" x2="536.70" y2="614.80" stroke="#e2e2e2" stroke-width="0.8" />
<line x1="300.80" y1="446.40" x2="300.80" y2="654.00" stroke="#d8d8d8" stroke-width="1.0" />
<line x1="300.80" y1="654.00" x2="536.70" y2="654.00" stroke="#c8c8c8" stroke-width="1.1" />
<text x="299.80" y="460.60" font-size="5.3" font-family='"Liberation Sans", sans-serif' font-weight="bold" text-anchor="end" fill="#222" >0.0</text>
<text x="299.80" y="499.90" font-size="5.3" font-family='"Liberation Sans", sans-serif' font-weight="bold" text-anchor="end" fill="#222" >0.1</text>
<text x="299.80" y="539.20" font-size="5.3" font-family='"Liberation Sans", sans-serif' font-weight="bold" text-anchor="end" fill="#222" >0.2</text>
<text x="299.80" y="578.50" font-size="5.3" font-family='"Liberation Sans", sans-serif' font-weight="bold" text-anchor="end" fill="#222" >0.3</text>
<text x="299.80" y="617.80" font-size="5.3" font-family='"Liberation Sans", sans-serif' font-weight="bold" text-anchor="end" fill="#222" >0.4</text>
<text x="299.80" y="657.10" font-size="5.3" font-family='"Liberation Sans", sans-serif' font-weight="bold" text-anchor="end" fill="#222" >0.5</text>
<text x="313.00" y="661.00" font-size="5.0" font-family='"Liberation Sans", sans-serif' font-weight="bold" text-anchor="middle" fill="#222" >-1.0</text>
<text x="355.55" y="661.00" font-size="5.0" font-family='"Liberation Sans", sans-serif' font-weight="bold" text-anchor="middle" fill="#222" >-0.5</text>
<text x="398.10" y="661.00" font-size="5.0" font-family='"Liberation Sans", sans-serif' font-weight="bold" text-anchor="middle" fill="#222" >0.0</text>
<text x="440.65" y="661.00" font-size="5.0" font-family='"Liberation Sans", sans-serif' font-weight="bold" text-anchor="middle" fill="#222" >0.5</text>
<text x="483.20" y="661.00" font-size="5.0" font-family='"Liberation Sans", sans-serif' font-weight="bold" text-anchor="middle" fill="#222" >1.0</text>
<text x="525.75" y="661.00" font-size="5.0" font-family='"Liberation Sans", sans-serif' font-weight="bold" text-anchor="middle" fill="#222" >1.5</text>
<circle cx="339.80" cy="642.30" r="0.6" fill="#8a8a8a"/>
<circle cx="341.58" cy="638.10" r="0.6" fill="#8a8a8a"/>
<circle cx="343.36" cy="633.90" r="0.6" fill="#8a8a8a"/>
<circle cx="345.14" cy="629.70" r="0.6" fill="#8a8a8a"/>
<circle cx="346.92" cy="625.50" r="0.6" fill="#8a8a8a"/>
<circle cx="348.70" cy="621.30" r="0.6" fill="#8a8a8a"/>
<circle cx="350.48" cy="617.10" r="0.6" fill="#8a8a8a"/>
<circle cx="352.26" cy="612.90" r="0.6" fill="#8a8a8a"/>
<circle cx="354.04" cy="608.70" r="0.6" fill="#8a8a8a"/>
<circle cx="355.82" cy="604.50" r="0.6" fill="#8a8a8a"/>
<circle cx="357.61" cy="600.30" r="0.6" fill="#8a8a8a"/>
<circle cx="359.39" cy="596.10" r="0.6" fill="#8a8a8a"/>
<circle cx="361.17" cy="591.90" r="0.6" fill="#8a8a8a"/>
<circle cx="362.95" cy="587.70" r="0.6" fill="#8a8a8a"/>
<circle cx="364.73" cy="583.50" r="0.6" fill="#8a8a8a"/>
<circle cx="366.51" cy="579.30" r="0.6" fill="#8a8a8a"/>
<circle cx="368.29" cy="575.10" r="0.6" fill="#8a8a8a"/>
<circle cx="370.07" cy="570.90" r="0.6" fill="#8a8a8a"/>
<circle cx="371.85" cy="566.70" r="0.6" fill="#8a8a8a"/>
<circle cx="373.63" cy="562.50" r="0.6" fill="#8a8a8a"/>
<circle cx="375.41" cy="558.30" r="0.6" fill="#8a8a8a"/>
<circle cx="377.19" cy="554.10" r="0.6" fill="#8a8a8a"/>
<circle cx="378.97" cy="549.90" r="0.6" fill="#8a8a8a"/>
<circle cx="380.75" cy="545.70" r="0.6" fill="#8a8a8a"/>
<circle cx="382.53" cy="541.50" r="0.6" fill="#8a8a8a"/>
<circle cx="384.31" cy="537.30" r="0.6" fill="#8a8a8a"/>
<circle cx="386.09" cy="533.10" r="0.6" fill="#8a8a8a"/>
<circle cx="387.87" cy="528.90" r="0.6" fill="#8a8a8a"/>
<circle cx="389.65" cy="524.70" r="0.6" fill="#8a8a8a"/>
<circle cx="391.43" cy="520.50" r="0.6" fill="#8a8a8a"/>
<circle cx="393.22" cy="516.30" r="0.6" fill="#8a8a8a"/>
<circle cx="395.00" cy="512.10" r="0.6" fill="#8a8a8a"/>
<circle cx="396.78" cy="507.90" r="0.6" fill="#8a8a8a"/>
<circle cx="398.56" cy="503.70" r="0.6" fill="#8a8a8a"/>
<circle cx="400.34" cy="499.50" r="0.6" fill="#8a8a8a"/>
<circle cx="402.12" cy="495.30" r="0.6" fill="#8a8a8a"/>
<circle cx="403.90" cy="491.10" r="0.6" fill="#8a8a8a"/>
<circle cx="405.68" cy="486.90" r="0.6" fill="#8a8a8a"/>
<circle cx="407.46" cy="482.70" r="0.6" fill="#8a8a8a"/>
<circle cx="409.24" cy="478.50" r="0.6" fill="#8a8a8a"/>
<circle cx="411.02" cy="474.30" r="0.6" fill="#8a8a8a"/>
<circle cx="412.80" cy="470.10" r="0.6" fill="#8a8a8a"/>
<circle cx="414.58" cy="465.90" r="0.6" fill="#8a8a8a"/>
<circle cx="416.36" cy="461.70" r="0.6" fill="#8a8a8a"/>
<circle cx="497.20" cy="642.30" r="0.6" fill="#8a8a8a"/>
<circle cx="495.40" cy="638.10" r="0.6" fill="#8a8a8a"/>
<circle cx="493.60" cy="633.90" r="0.6" fill="#8a8a8a"/>
<circle cx="491.80" cy="629.70" r="0.6" fill="#8a8a8a"/>
<circle cx="490.01" cy="625.50" r="0.6" fill="#8a8a8a"/>
<circle cx="488.21" cy="621.30" r="0.6" fill="#8a8a8a"/>
<circle cx="486.41" cy="617.10" r="0.6" fill="#8a8a8a"/>
<circle cx="484.61" cy="612.90" r="0.6" fill="#8a8a8a"/>
<circle cx="482.81" cy="608.70" r="0.6" fill="#8a8a8a"/>
<circle cx="481.01" cy="604.50" r="0.6" fill="#8a8a8a"/>
<circle cx="479.21" cy="600.30" r="0.6" fill="#8a8a8a"/>
<circle cx="477.41" cy="596.10" r="0.6" fill="#8a8a8a"/>
<circle cx="475.62" cy="591.90" r="0.6" fill="#8a8a8a"/>
<circle cx="473.82" cy="587.70" r="0.6" fill="#8a8a8a"/>
<circle cx="472.02" cy="583.50" r="0.6" fill="#8a8a8a"/>
<circle cx="470.22" cy="579.30" r="0.6" fill="#8a8a8a"/>
<circle cx="468.42" cy="575.10" r="0.6" fill="#8a8a8a"/>
<circle cx="466.62" cy="570.90" r="0.6" fill="#8a8a8a"/>
<circle cx="464.82" cy="566.70" r="0.6" fill="#8a8a8a"/>
<circle cx="463.02" cy="562.50" r="0.6" fill="#8a8a8a"/>
<circle cx="461.23" cy="558.30" r="0.6" fill="#8a8a8a"/>
<circle cx="459.43" cy="554.10" r="0.6" fill="#8a8a8a"/>
<circle cx="457.63" cy="549.90" r="0.6" fill="#8a8a8a"/>
<circle cx="455.83" cy="545.70" r="0.6" fill="#8a8a8a"/>
<circle cx="454.03" cy="541.50" r="0.6" fill="#8a8a8a"/>
<circle cx="452.23" cy="537.30" r="0.6" fill="#8a8a8a"/>
<circle cx="450.43" cy="533.10" r="0.6" fill="#8a8a8a"/>
<circle cx="448.64" cy="528.90" r="0.6" fill="#8a8a8a"/>
<circle cx="446.84" cy="524.70" r="0.6" fill="#8a8a8a"/>
<circle cx="445.04" cy="520.50" r="0.6" fill="#8a8a8a"/>
<circle cx="443.24" cy="516.30" r="0.6" fill="#8a8a8a"/>
<circle cx="441.44" cy="512.10" r="0.6" fill="#8a8a8a"/>
<circle cx="439.64" cy="507.90" r="0.6" fill="#8a8a8a"/>
<circle cx="437.84" cy="503.70" r="0.6" fill="#8a8a8a"/>
<circle cx="436.04" cy="499.50" r="0.6" fill="#8a8a8a"/>
<circle cx="434.25" cy="495.30" r="0.6" fill="#8a8a8a"/>
<circle cx="432.45" cy="491.10" r="0.6" fill="#8a8a8a"/>
<circle cx="430.65" cy="486.90" r="0.6" fill="#8a8a8a"/>
<circle cx="428.85" cy="482.70" r="0.6" fill="#8a8a8a"/>
<circle cx="427.05" cy="478.50" r="0.6" fill="#8a8a8a"/>
<circle cx="425.25" cy="474.30" r="0.6" fill="#8a8a8a"/>
<circle cx="423.45" cy="470.10" r="0.6" fill="#8a8a8a"/>
<circle cx="421.65" cy="465.90" r="0.6" fill="#8a8a8a"/>
<circle cx="419.86" cy="461.70" r="0.6" fill="#8a8a8a"/>
<line x1="418.10" y1="457.90" x2="418.10" y2="642.30" stroke="#d0d0d0" stroke-width="1.5" />
<circle cx="410.01" cy="544.65" r="2.75" fill="#e60026"/>
<circle cx="394.70" cy="554.87" r="2.75" fill="#e60026"/>
<circle cx="414.27" cy="595.15" r="2.75" fill="#e60026"/>
<circle cx="413.42" cy="603.01" r="2.75" fill="#e60026"/>
<circle cx="516.39" cy="642.31" r="2.75" fill="#e60026"/>
<text x="415.90" y="541.03" font-size="5.1" font-family='"Liberation Sans", sans-serif' font-weight="normal" text-anchor="middle" fill="#222" >Thijssen, 2021</text>
<text x="411.40" y="562.33" font-size="5.1" font-family='"Liberation Sans", sans-serif' font-weight="normal" text-anchor="middle" fill="#222" >Alcolea, 2017</text>
<text x="420.00" y="591.83" font-size="5.1" font-family='"Liberation Sans", sans-serif' font-weight="normal" text-anchor="middle" fill="#222" >Hansson, 2017b (cohort 2)</text>
<text x="433.90" y="610.83" font-size="5.1" font-family='"Liberation Sans", sans-serif' font-weight="normal" text-anchor="middle" fill="#222" >Grossman, 2005</text>
<text x="522.20" y="638.73" font-size="5.1" font-family='"Liberation Sans", sans-serif' font-weight="normal" text-anchor="middle" fill="#222" >Borroni, 2009</text>
<text x="0" y="0" transform="translate(288.80,545) rotate(-90)" font-size="5.2" font-family='"Liberation Sans", sans-serif' font-weight="bold" text-anchor="middle" fill="#222">Standard error</text>
<text x="419.20" y="669.95" font-size="5.15" font-family='"Liberation Sans", sans-serif' font-weight="bold" text-anchor="middle" fill="#222" >Cohen's d</text>
<text transform="translate(529.5,676.9) scale(0.25,0.25)" x="0" y="0" font-size="71.2" letter-spacing="1.2" font-family='"Liberation Sans", sans-serif' font-weight="bold" fill="#111" stroke="#111" stroke-width="1.6" text-rendering="geometricPrecision">d.</text>
</svg></body></html>
